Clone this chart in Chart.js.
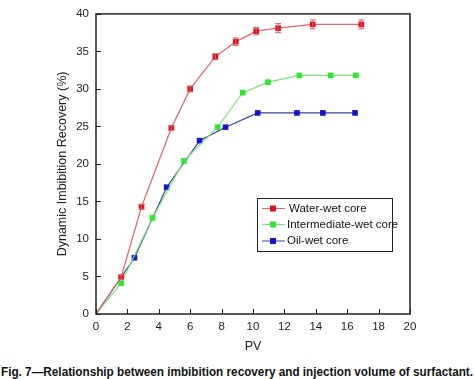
<!DOCTYPE html>
<html>
<head>
<meta charset="utf-8">
<script src="https://cdn.jsdelivr.net/npm/chart.js@4.4.1/dist/chart.umd.min.js"></script>
<style>
  html, body { margin: 0; padding: 0; background: #fff; overflow: hidden; }
  #wrap { position: relative; width: 474px; height: 358px; }
  #caption { font-family: "Liberation Sans", Arial, sans-serif; font-weight: bold; font-size: 12.3px;
             color: #111; margin: 7px 0 0 1px; white-space: nowrap; display: inline-block;
             transform-origin: 0 0; }
</style>
</head>
<body>
<div id="wrap"><canvas id="chart" width="474" height="358"></canvas></div>
<div id="caption">Fig. 7—Relationship between imbibition recovery and injection volume of surfactant.</div>
<script>
// valores
const waterPV  = [0, 1.6, 2.9, 4.8, 6.0, 7.6, 8.9, 10.2, 11.6, 13.8, 16.9];
const waterRec = [0, 4.9, 14.3, 24.8, 30.0, 34.3, 36.3, 37.7, 38.1, 38.6, 38.6];
const waterErr = [0, 0.3, 0.3, 0.3, 0.4, 0.4, 0.5, 0.5, 0.6, 0.6, 0.6];

const interPV  = [0, 1.6, 3.6, 5.6, 7.75, 9.35, 10.95, 12.95, 14.95, 16.55];
const interRec = [0, 4.1, 12.8, 20.4, 24.9, 29.5, 30.9, 31.8, 31.8, 31.8];

const oilPV  = [0, 2.45, 4.5, 6.6, 8.25, 10.3, 12.8, 14.45, 16.5];
const oilRec = [0, 7.5, 16.9, 23.1, 24.9, 26.8, 26.8, 26.8, 26.8];

const xTicks = [0, 2, 4, 6, 8, 10, 12, 14, 16, 18, 20];
const yTicks = [0, 5, 10, 15, 20, 25, 30, 35, 40];

const toPoints = (xs, ys) => xs.map((x, i) => ({ x: x, y: ys[i] }));
const radii = (n) => Array.from({ length: n }, (_, i) => (i === 0 ? 0 : 4));

const series = [
    { label: 'Water-wet core', pts: toPoints(waterPV, waterRec), line: '#d9676b', mark: '#e3101c', err: waterErr },
    { label: 'Intermediate-wet core', pts: toPoints(interPV, interRec), line: '#7ee27a', mark: '#2de82d' },
    { label: 'Oil-wet core', pts: toPoints(oilPV, oilRec), line: '#3b3f9a', mark: '#1414d2' }
];

// ajustar el pie de figura al ancho
const caption = document.getElementById('caption');
const capW = caption.getBoundingClientRect().width;
if (capW > 472) caption.style.transform = 'scaleX(' + (472 / capW) + ')';

// ticks hacia adentro, marco y barras de error
const framePlugin = {
    id: 'frame',
    afterDatasetsDraw(chart) {
        const ctx = chart.ctx;
        const a = chart.chartArea;
        const xs = chart.scales.x, ys = chart.scales.y;
        ctx.save();
        // barras de error
        chart.data.datasets.forEach((ds, di) => {
            const errs = series[di].err;
            if (!errs) return;
            ctx.strokeStyle = '#e0606a';
            ctx.lineWidth = 1;
            ds.data.forEach((p, i) => {
                if (!errs[i]) return;
                const px = xs.getPixelForValue(p.x);
                const top = ys.getPixelForValue(p.y + errs[i]);
                const bot = ys.getPixelForValue(p.y - errs[i]);
                ctx.beginPath();
                ctx.moveTo(px, top); ctx.lineTo(px, bot);
                ctx.moveTo(px - 3, top); ctx.lineTo(px + 3, top);
                ctx.moveTo(px - 3, bot); ctx.lineTo(px + 3, bot);
                ctx.stroke();
            });
        });
        // marco
        ctx.strokeStyle = '#222';
        ctx.lineWidth = 1.5;
        ctx.strokeRect(a.left, a.top, a.right - a.left, a.bottom - a.top);
        ctx.lineWidth = 1;
        xTicks.forEach(v => {
            const px = Math.round(xs.getPixelForValue(v)) + 0.5;
            ctx.beginPath(); ctx.moveTo(px, a.bottom); ctx.lineTo(px, a.bottom - 5); ctx.stroke();
        });
        yTicks.forEach(v => {
            const py = Math.round(ys.getPixelForValue(v)) + 0.5;
            ctx.beginPath(); ctx.moveTo(a.left, py); ctx.lineTo(a.left + 5, py); ctx.stroke();
        });
        ctx.restore();
    },
    afterDraw(chart) {
        // leyenda con recuadro
        const ctx = chart.ctx;
        ctx.save();
        ctx.fillStyle = '#fff';
        ctx.fillRect(257.5, 198.5, 135, 53);
        ctx.strokeStyle = '#222';
        ctx.lineWidth = 1;
        ctx.strokeRect(257.5, 198.5, 135, 53);
        ctx.font = '11.5px "Liberation Sans", Arial, sans-serif';
        ctx.textBaseline = 'middle';
        const rows = [208.5, 224.5, 241];
        series.forEach((s, i) => {
            const y = rows[i];
            ctx.strokeStyle = s.line;
            ctx.beginPath(); ctx.moveTo(262, y); ctx.lineTo(285, y); ctx.stroke();
            ctx.fillStyle = s.mark;
            ctx.fillRect(270, y - 3, 6, 6);
            ctx.fillStyle = '#111';
            ctx.fillText(s.label, i === 0 ? 289 : 287, y);
        });
        ctx.restore();
    }
};

new Chart(document.getElementById('chart'), {
    type: 'scatter',
    data: {
        datasets: series.map(s => ({
            label: s.label,
            data: s.pts,
            showLine: true,
            borderColor: s.line,
            borderWidth: 1.2,
            backgroundColor: s.mark,
            pointBackgroundColor: s.mark,
            pointBorderColor: s.mark,
            pointBorderWidth: 0,
            pointStyle: 'rect',
            pointRadius: radii(s.pts.length),
            pointHoverRadius: 4,
            tension: 0
        }))
    },
    options: {
        responsive: false,
        animation: false,
        devicePixelRatio: 1,
        layout: { padding: { top: 4, right: 64, bottom: 0, left: 0 } },
        plugins: {
            legend: { display: false },
            tooltip: { enabled: false }
        },
        scales: {
            x: {
                type: 'linear',
                min: 0, max: 20,
                afterBuildTicks: (scale) => { scale.ticks = xTicks.map(v => ({ value: v })); },
                afterFit: (scale) => { scale.height = 44; },
                grid: { display: false, drawTicks: false },
                border: { display: false },
                ticks: { color: '#222', padding: 6, font: { family: 'Liberation Sans', size: 11.5 } },
                title: { display: true, text: 'PV', color: '#222', padding: { top: 2, bottom: 4 },
                         font: { family: 'Liberation Sans', size: 12.5 } }
            },
            y: {
                type: 'linear',
                min: 0, max: 40,
                afterBuildTicks: (scale) => { scale.ticks = yTicks.map(v => ({ value: v })); },
                afterFit: (scale) => { scale.width = 96; },
                grid: { display: false, drawTicks: false },
                border: { display: false },
                ticks: { color: '#222', padding: 7, font: { family: 'Liberation Sans', size: 11.5 } },
                title: { display: true, text: 'Dynamic Imbibition Recovery (%)', color: '#222',
                         padding: { top: 55, bottom: 0 },
                         font: { family: 'Liberation Sans', size: 12.5 } }
            }
        }
    },
    plugins: [framePlugin]
});
</script>
</body>
</html>
